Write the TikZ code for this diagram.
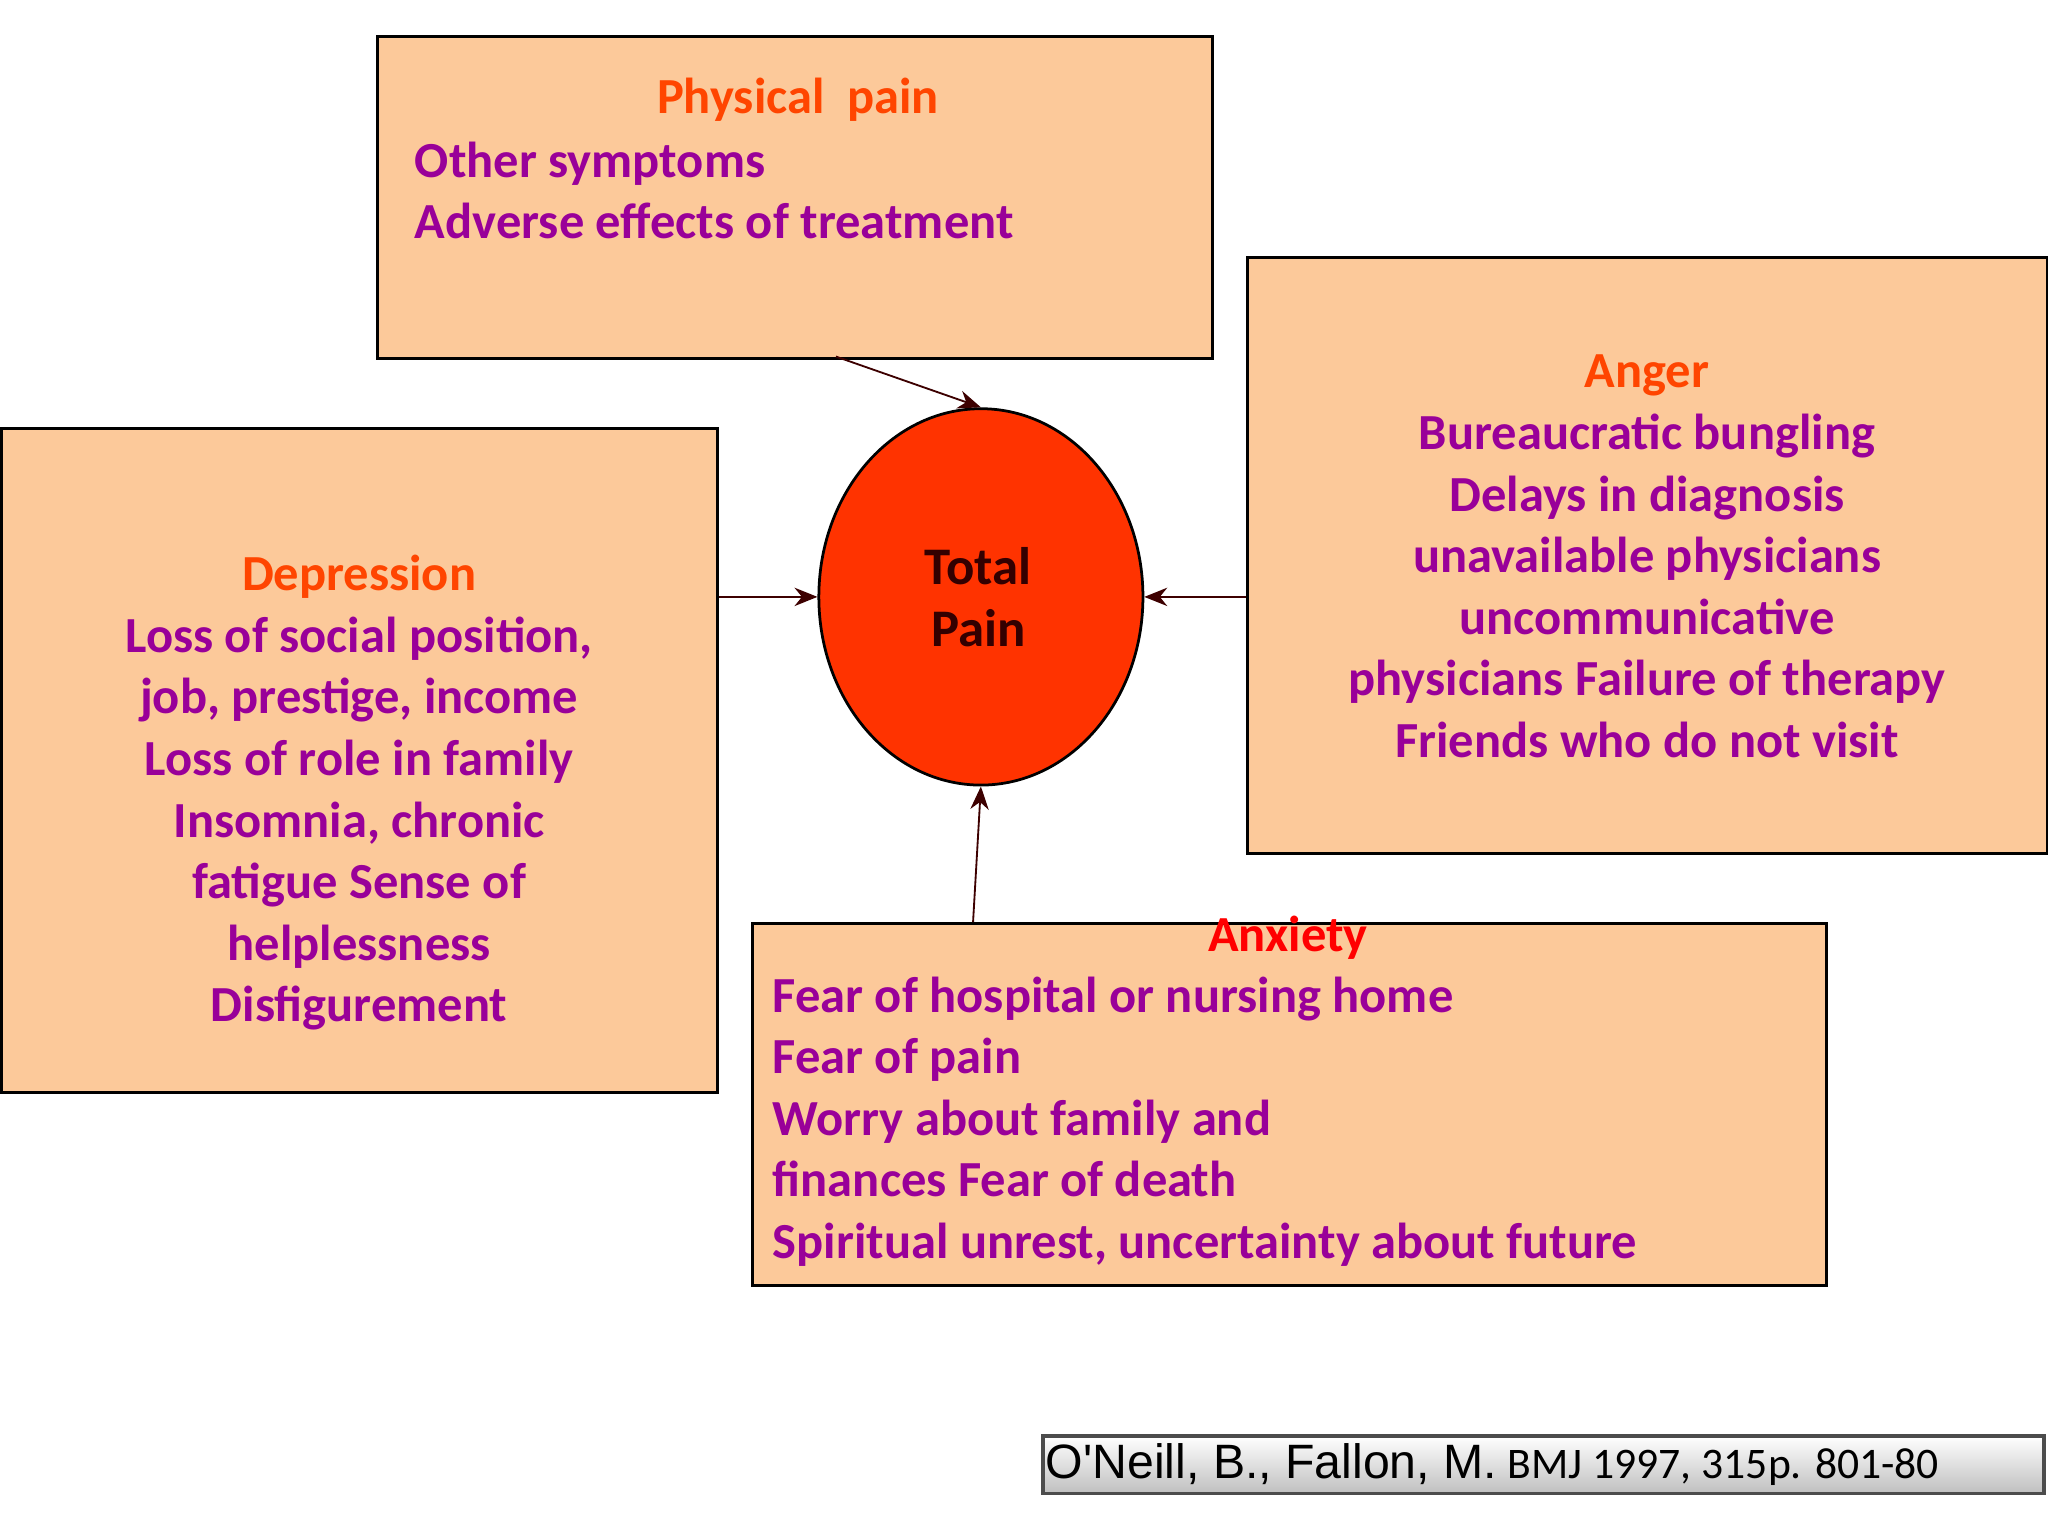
\documentclass[tikz,border=0pt]{standalone}
\usepackage{fontspec}
\setmainfont{Carlito}
\usetikzlibrary{positioning,calc,arrows.meta,shapes.geometric}
\definecolor{boxfill}{HTML}{FCC99A}
\definecolor{ttl}{HTML}{FF4500}
\definecolor{itm}{HTML}{990099}
\definecolor{core}{HTML}{FF3300}
\begin{document}
\begin{tikzpicture}[x=0.01cm,y=-0.01cm,
    box/.style={draw=black,semithick,fill=boxfill,anchor=north west,inner sep=0pt},
    txt/.style={font=\fontsize{11}{13.4}\selectfont\bfseries,text=itm,inner sep=0pt},
    link/.style={draw=black!60!red!60!black,-{Stealth[length=5pt,width=4pt]}}]
  \useasboundingbox[fill=white] (0,0) rectangle (1568,1176);

  % boxes
  \node[box,minimum width=6.39cm,minimum height=2.46cm] (phys) at (288,27) {};
  \node[box,minimum width=5.48cm,minimum height=5.08cm] (depr) at (0,327) {};
  \node[box,minimum width=6.12cm,minimum height=4.56cm] (ang) at (954,196) {};
  \node[box,minimum width=8.22cm,minimum height=2.77cm] (anx) at (575,706) {};
  \node[ellipse,draw=black,semithick,fill=core,minimum width=2.48cm,minimum height=2.88cm,
        inner sep=0pt] (tp) at (751,457) {};
  \node[txt,text=black!60!red!50!black,align=center,font=\fontsize{11.5}{13.4}\selectfont\bfseries]
        (tpl) at (749,457) {Total\\Pain};

  % texts
  \node[txt,text=ttl] (physT) at (611,76) {Physical\ \ pain};
  \node[txt,anchor=north west,align=left]
        (physL) at (317,108) {Other symptoms\\Adverse effects of treatment};
  \node[txt,align=center] (deprL) at (275,607)
        {\textcolor{ttl}{Depression}\\Loss of social position,\\job, prestige, income\\
         Loss of role in family\\Insomnia, chronic\\fatigue Sense of\\helplessness\\Disfigurement};
  \node[txt,align=center] (angL) at (1261,426)
        {\textcolor{ttl}{Anger}\\Bureaucratic bungling\\Delays in diagnosis\\unavailable physicians\\
         uncommunicative\\physicians Failure of therapy\\Friends who do not visit};
  \node[txt,text=red] (anxT) at (986,718) {Anxiety};
  \node[txt,anchor=north west,align=left]
        (anxL) at (591,747) {Fear of hospital or nursing home\\Fear of pain\\Worry about family and\\
         finances Fear of death\\Spiritual unrest, uncertainty about future};

  % connectors
  \coordinate (physOut) at (640,273);
  \draw[link] (physOut) -- (tp.north);
  \draw[link] (depr.east |- tp.west) -- (tp.west);
  \draw[link] (ang.west |- tp.east) -- (tp.east);
  \coordinate (anxOut) at (745,706);
  \draw[link] (anxOut) -- (tp.south);

  % citation
  \node[draw=black!70,thick,top color=white,bottom color=black!25,anchor=north west,
        minimum width=7.66cm,minimum height=0.44cm,inner sep=0pt] (cite) at (797,1098) {};
  \node[anchor=west,inner sep=0pt] (citeT) at (800,1121)
        {{\fontspec{Liberation Sans}\fontsize{10.5}{12}\selectfont O'Neill, B., Fallon, M.}
         {\fontsize{9.5}{12}\selectfont BMJ 1997, 315p. 801-80}};
\end{tikzpicture}
\end{document}
